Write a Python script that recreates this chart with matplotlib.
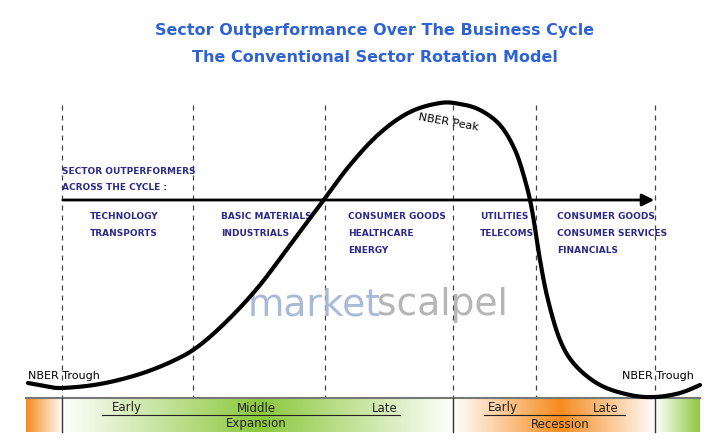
import matplotlib
matplotlib.use("Agg")
import matplotlib.pyplot as plt
import numpy as np

# cycle curve (pixel coordinates)
curve_x = [28,45,62,100,140,175,200,230,260,290,320,350,380,410,440,460,480,500,515,525,532,540,548,560,575,600,630,655,680,700]
curve_y = [383,386,388,384,374,360,345,318,285,245,205,165,133,112,103,104,110,125,150,180,210,260,300,340,365,385,395,397,393,385]
dividers = [62,193,325,453,536,655]
sectors = [["TECHNOLOGY","TRANSPORTS"],["BASIC MATERIALS","INDUSTRIALS"],
           ["CONSUMER GOODS","HEALTHCARE","ENERGY"],["UTILITIES","TELECOMS"],
           ["CONSUMER GOODS","CONSUMER SERVICES","FINANCIALS"]]
sector_x = [90,221,348,480,557]

def catmull(xs, ys, n=12):
    P = np.column_stack([xs, ys]).astype(float)
    P = np.vstack([P[0], P, P[-1]])
    out = []
    for i in range(1, len(P)-2):
        p0,p1,p2,p3 = P[i-1],P[i],P[i+1],P[i+2]
        for t in np.linspace(0,1,n,endpoint=False):
            out.append(0.5*((2*p1)+(-p0+p2)*t+(2*p0-5*p1+4*p2-p3)*t*t+(-p0+3*p1-3*p2+p3)*t**3))
    out.append(P[-2])
    out = np.array(out)
    return out[:,0], out[:,1]

fig = plt.figure(figsize=(7.2,4.43), dpi=100)
ax = fig.add_axes([0,0,1,1])
ax.set_xlim(0,720); ax.set_ylim(443,0); ax.axis('off')

blue = '#2f62d2'
ax.text(375,30,'Sector Outperformance Over The Business Cycle',ha='center',va='center',color=blue,fontsize=11.5,fontweight='bold')
ax.text(375,57,'The Conventional Sector Rotation Model',ha='center',va='center',color=blue,fontsize=11.5,fontweight='bold')

for d in dividers:
    ax.plot([d,d],[105,398],ls=(0,(4,4)),color='#444',lw=0.9)

w = 720
cols = np.ones((1,w,3))
orange = np.array([245,140,30])/255; green=np.array([140,200,60])/255; white=np.ones(3)
def fill(a,b,c,peak):
    for x in range(a,b):
        t = (x-a)/(peak-a) if x<peak else (b-x)/(b-peak)
        t = min(max(t,0),1)
        cols[0,x] = white*(1-t)+c*t
fill(26,63,orange,26)
fill(62,454,green,260)
fill(453,656,orange,560)
fill(655,700,green,700)
cols[0,:26]=1; cols[0,700:]=1
ax.imshow(cols,extent=[0,720,432,398],aspect='auto',zorder=0)
ax.plot([26,700],[398,398],color='#777',lw=1.5)
for d in [62,453,655]:
    ax.plot([d,d],[398,432],color='#333',lw=1)
dk='#222'
for x,t in [(127,'Early'),(256,'Middle'),(385,'Late'),(503,'Early'),(606,'Late')]:
    ax.text(x,408,t,ha='center',va='center',fontsize=8.5,color=dk)
ax.plot([102,400],[415,415],color=dk,lw=0.8); ax.plot([484,625],[415,415],color=dk,lw=0.8)
ax.text(256,424,'Expansion',ha='center',va='center',fontsize=8.5,color=dk)
ax.text(560,424,'Recession',ha='center',va='center',fontsize=8.5,color=dk)

ax.annotate('',xy=(657,200),xytext=(60,200),arrowprops=dict(arrowstyle='-|>',color='black',lw=2,mutation_scale=18))
navy='#2a2a8a'
ax.text(62,171,'SECTOR OUTPERFORMERS',fontsize=6.5,fontweight='bold',color=navy,va='center')
ax.text(62,187,'ACROSS THE CYCLE :',fontsize=6.5,fontweight='bold',color=navy,va='center')
for x,lines in zip(sector_x,sectors):
    for i,l in enumerate(lines):
        ax.text(x,216+17*i,l,fontsize=6.5,color=navy,va='center',fontweight='semibold')

ax.text(248,305,'market',fontsize=27,color='#a9bad8',va='center')
ax.text(377,305,'scalpel',fontsize=27,color='#b5b5b5',va='center')

sx, sy = catmull(curve_x, curve_y)
ax.plot(sx,sy,color='black',lw=3,solid_capstyle='round',solid_joinstyle='round',zorder=5)
ax.text(418,122,'NBER Peak',fontsize=8,rotation=-10,va='center')
ax.text(28,376,'NBER Trough',fontsize=8,va='center')
ax.text(622,376,'NBER Trough',fontsize=8,va='center')

fig.savefig('out.png',dpi=100)
